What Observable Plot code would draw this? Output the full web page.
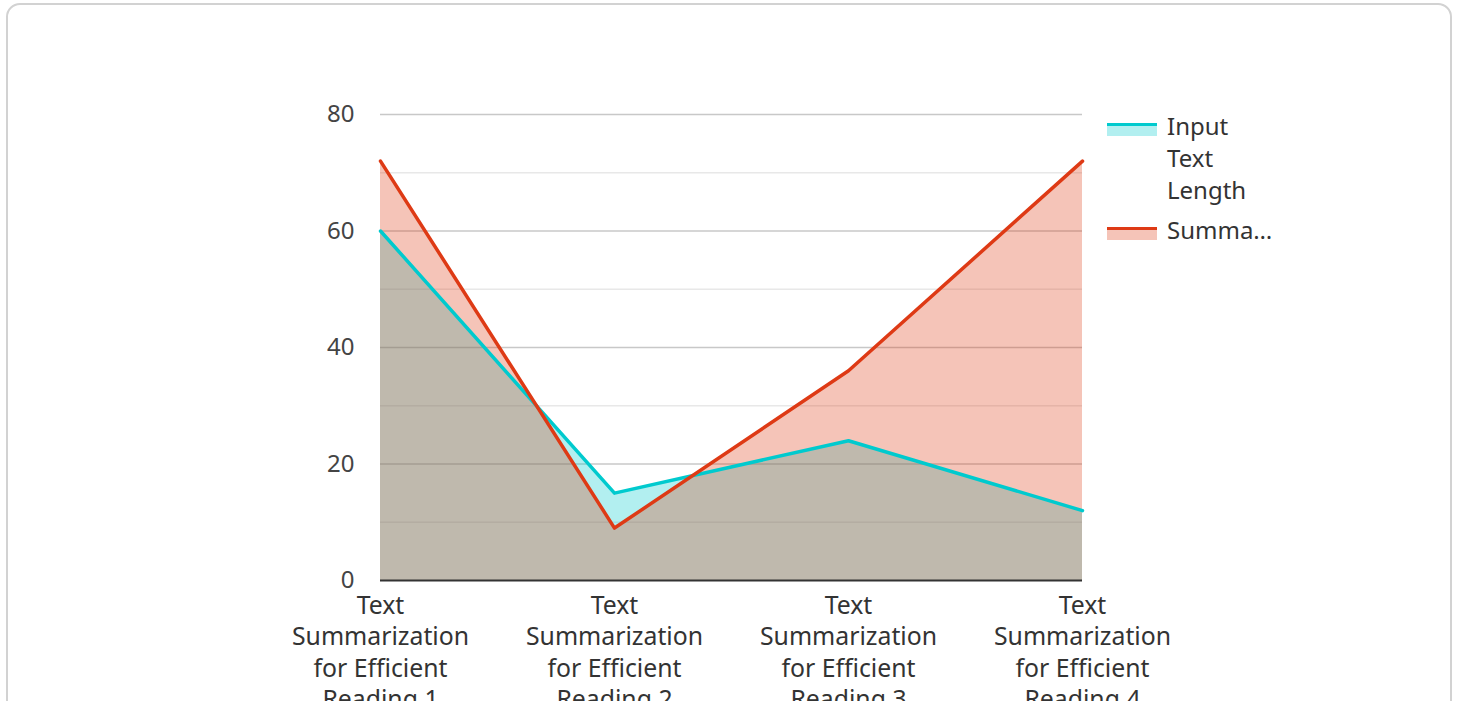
<!DOCTYPE html>
<html>
<head>
<meta charset="utf-8">
<script src="https://cdn.jsdelivr.net/npm/d3@7"></script>
<script src="https://cdn.jsdelivr.net/npm/@observablehq/plot@0.6"></script>
<style>
  html, body { margin: 0; padding: 0; background: #fff; overflow: hidden; }
  body { width: 1458px; height: 701px; position: relative; font-family: "Noto Sans", sans-serif; }
  #card { position: absolute; left: 6px; top: 3px; width: 1446px; height: 740px; border: 2px solid #d2d2d2; border-radius: 14px; box-sizing: border-box; }
  #chart { position: absolute; left: 0; top: 0; }
  .legend { position: absolute; left: 1107px; font-size: 24px; color: #333; line-height: 32px; }
  .item { position: relative; }
  .sw { position: absolute; left: 0; width: 50px; }
  .sw .ln { height: 3px; }
  .sw .fl { height: 10px; }
  .lab { margin-left: 60px; width: 100px; }
  .trunc { white-space: nowrap; overflow: hidden; text-overflow: ellipsis; width: 108px; }
</style>
</head>
<body>
<div id="card"></div>
<div id="chart"></div>
<div class="legend" id="legend" style="top:110px"></div>
<script>
const categories = [
  "Text Summarization for Efficient Reading 1",
  "Text Summarization for Efficient Reading 2",
  "Text Summarization for Efficient Reading 3",
  "Text Summarization for Efficient Reading 4"
];
const seriesNames = ["Input Text Length", "Summary Text Length"];
const inputLength = [60, 15, 24, 12];
const summaryLength = [72, 9, 36, 72];
const yTicks = [0, 20, 40, 60, 80];
const minorTicks = [10, 30, 50, 70];

const teal = "#00CACE";
const red = "#DE3A15";

const data = categories.map((c, i) => ({cat: c, input: inputLength[i], summary: summaryLength[i]}));

function wrap(s, max = 13) {
  const words = s.split(" ");
  const lines = [];
  let cur = "";
  for (const w of words) {
    if (!cur) cur = w;
    else if ((cur + " " + w).length <= max) cur += " " + w;
    else { lines.push(cur); cur = w; }
  }
  if (cur) lines.push(cur);
  return lines.join("\n");
}

const plot = Plot.plot({
  width: 1458,
  height: 701,
  marginLeft: 380,
  marginRight: 376,
  marginTop: 114,
  marginBottom: 121,
  style: {fontFamily: "Noto Sans", fontSize: "24px", color: "#444", background: "transparent", overflow: "visible"},
  x: {type: "point", domain: categories, padding: 0, label: null},
  y: {domain: [0, 80], label: null},
  marks: [
    Plot.ruleY(minorTicks, {stroke: "#e8e8e8", strokeWidth: 1.5}),
    Plot.ruleY(yTicks.filter(d => d > 0), {stroke: "#c8c8c8", strokeWidth: 1.5}),
    Plot.areaY(data, {x: "cat", y: "input", fill: teal, fillOpacity: 0.3}),
    Plot.areaY(data, {x: "cat", y: "summary", fill: red, fillOpacity: 0.3}),
    Plot.lineY(data, {x: "cat", y: "input", stroke: teal, strokeWidth: 3.5}),
    Plot.lineY(data, {x: "cat", y: "summary", stroke: red, strokeWidth: 3.5}),
    Plot.ruleY([0], {stroke: "#333", strokeWidth: 2}),
    Plot.axisY({ticks: yTicks, tickSize: 0, tickPadding: 26, fontSize: 24, label: null, fill: "#444"}),
    Plot.axisX({tickSize: 0, tickPadding: 11, fontSize: 24.8, lineHeight: 1.27, tickFormat: d => wrap(d), label: null, fill: "#333"})
  ]
});
document.getElementById("chart").appendChild(plot);

const legend = document.getElementById("legend");
const colors = [teal, red];
const fills = ["rgba(0,202,206,0.3)", "rgba(222,58,21,0.3)"];
seriesNames.forEach((name, i) => {
  const item = document.createElement("div");
  item.className = "item";
  item.style.marginBottom = "8px";
  item.innerHTML = `<div class="sw" style="top:13px"><div class="ln" style="background:${colors[i]}"></div><div class="fl" style="background:${fills[i]}"></div></div><div class="lab ${i === 1 ? "trunc" : ""}">${name}</div>`;
  legend.appendChild(item);
});
</script>
</body>
</html>
